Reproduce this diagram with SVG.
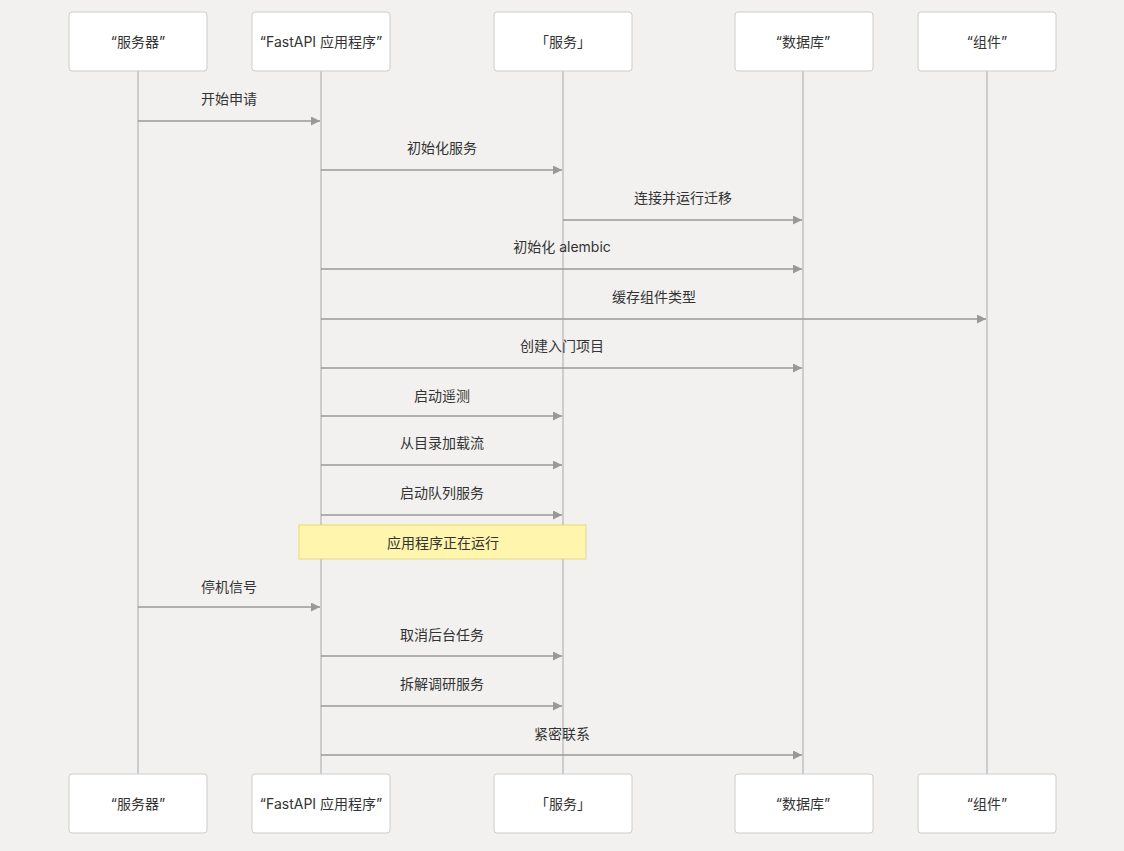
<svg xmlns="http://www.w3.org/2000/svg" width="1124" height="851" viewBox="0 0 1124 851">
<style>
.box{fill:#fff;stroke:#ccc;stroke-width:1}
.t{font-family:Inter,"Noto Sans CJK SC",sans-serif;font-size:14px;fill:#333;text-anchor:middle}
.life{stroke:#ccc;stroke-width:2}
.msg{stroke:#999;stroke-width:1.3;fill:none;marker-end:url(#a)}
</style>
<defs><marker id="a" viewBox="0 0 10 10" refX="10" refY="5" markerWidth="9" markerHeight="9" orient="auto" markerUnits="userSpaceOnUse"><path d="M0,0L10,5L0,10z" fill="#999"/></marker></defs>
<rect width="1124" height="851" fill="#f2f1ef"/>
<g id="lifelines">
<line class="life" x1="138" y1="71" x2="138" y2="774"/>
<line class="life" x1="321" y1="71" x2="321" y2="774"/>
<line class="life" x1="563" y1="71" x2="563" y2="774"/>
<line class="life" x1="803" y1="71" x2="803" y2="774"/>
<line class="life" x1="987" y1="71" x2="987" y2="774"/>
</g>
<g id="p1"><rect class="box" x="69" y="12" width="138" height="59" rx="3"/><text class="t" x="138" y="47">“服务器”</text>
<rect class="box" x="69" y="774" width="138" height="59" rx="3"/><text class="t" x="138" y="809">“服务器”</text></g>
<g id="p2"><rect class="box" x="252" y="12" width="138" height="59" rx="3"/><text class="t" x="321" y="47">“FastAPI 应用程序”</text>
<rect class="box" x="252" y="774" width="138" height="59" rx="3"/><text class="t" x="321" y="809">“FastAPI 应用程序”</text></g>
<g id="p3"><rect class="box" x="494" y="12" width="138" height="59" rx="3"/><text class="t" x="563" y="47">「服务」</text>
<rect class="box" x="494" y="774" width="138" height="59" rx="3"/><text class="t" x="563" y="809">「服务」</text></g>
<g id="p4"><rect class="box" x="735" y="12" width="138" height="59" rx="3"/><text class="t" x="803" y="47">“数据库”</text>
<rect class="box" x="735" y="774" width="138" height="59" rx="3"/><text class="t" x="803" y="809">“数据库”</text></g>
<g id="p5"><rect class="box" x="918" y="12" width="138" height="59" rx="3"/><text class="t" x="987" y="47">“组件”</text>
<rect class="box" x="918" y="774" width="138" height="59" rx="3"/><text class="t" x="987" y="809">“组件”</text></g>
<g id="note"><rect x="299" y="525" width="287" height="34" fill="#fff5ad" stroke="#e6d97a"/><text class="t" x="443" y="548">应用程序正在运行</text></g>
<g id="connectors">
<line class="msg" x1="138" y1="121" x2="320" y2="121"/><text class="t" x="229" y="104">开始申请</text>
<line class="msg" x1="321" y1="170" x2="562" y2="170"/><text class="t" x="442" y="153">初始化服务</text>
<line class="msg" x1="563" y1="220" x2="802" y2="220"/><text class="t" x="683" y="203">连接并运行迁移</text>
<line class="msg" x1="321" y1="269" x2="802" y2="269"/><text class="t" x="562" y="252">初始化 alembic</text>
<line class="msg" x1="321" y1="319" x2="986" y2="319"/><text class="t" x="654" y="302">缓存组件类型</text>
<line class="msg" x1="321" y1="368" x2="802" y2="368"/><text class="t" x="562" y="351">创建入门项目</text>
<line class="msg" x1="321" y1="416" x2="562" y2="416"/><text class="t" x="442" y="401">启动遥测</text>
<line class="msg" x1="321" y1="465" x2="562" y2="465"/><text class="t" x="442" y="448">从目录加载流</text>
<line class="msg" x1="321" y1="515" x2="562" y2="515"/><text class="t" x="442" y="498">启动队列服务</text>
<line class="msg" x1="138" y1="607" x2="320" y2="607"/><text class="t" x="229" y="592">停机信号</text>
<line class="msg" x1="321" y1="656" x2="562" y2="656"/><text class="t" x="442" y="640">取消后台任务</text>
<line class="msg" x1="321" y1="706" x2="562" y2="706"/><text class="t" x="442" y="689">拆解调研服务</text>
<line class="msg" x1="321" y1="755" x2="802" y2="755"/><text class="t" x="562" y="739">紧密联系</text>
</g>
</svg>
